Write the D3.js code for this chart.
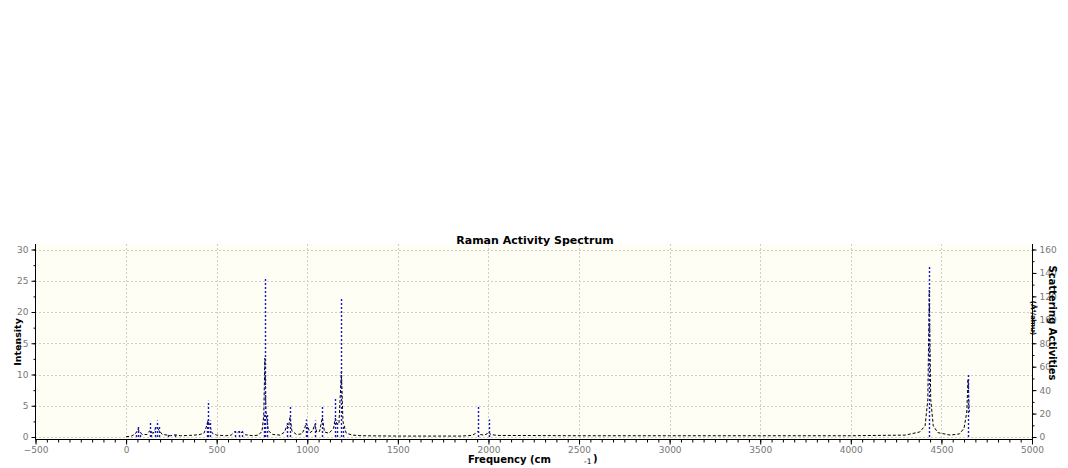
<!DOCTYPE html>
<html><head><meta charset="utf-8">
<script src="https://cdn.jsdelivr.net/npm/d3@7"></script>
<style>body{margin:0;background:#fff;}svg{display:block;font-family:"DejaVu Sans",sans-serif;}</style>
</head><body>
<svg id="c" width="1068" height="468"></svg>
<script>
// Raman stick spectrum: frequency (cm^-1) and scattering activity (Å^4/amu)
const stickFreq = [55,66,75,130,140,160,168,180,230,270,445,452,462,601,624,640,760,766,775,887,905,993,1000,1041,1083,1155,1164,1188,1195,1941,2002,4433,4647];
const stickAct  = [4,10,4,13,5,10,14,10,2,2,14,31,14,6,6,6,20,136,20,13,27,15,10,14,26,34,14,119,10,26,15,145,54];
// Broadened intensity curve
const curveFreq = [0,30,50,58,66,74,90,115,130,138,150,160,168,176,186,200,230,245,270,300,350,400,430,445,452,462,475,500,550,580,601,612,624,632,640,660,700,730,750,760,766,772,785,810,850,875,887,896,905,915,940,970,985,993,1000,1015,1030,1041,1052,1068,1083,1095,1120,1145,1155,1164,1175,1188,1197,1215,1250,1300,1500,1850,1910,1930,1941,1955,1975,1992,2002,2012,2050,2500,3000,3500,4000,4300,4380,4410,4425,4433,4441,4455,4480,4550,4600,4625,4640,4647,4654];
const curveInt  = [0.05,0.15,0.5,0.8,1.3,0.8,0.4,0.4,1.0,0.7,0.6,1.2,1.6,1.3,0.9,0.4,0.3,0.2,0.35,0.2,0.25,0.35,0.6,1.8,2.6,1.8,0.6,0.3,0.2,0.3,0.9,0.6,0.9,0.6,0.8,0.35,0.2,0.3,0.9,3.5,12.6,4.0,1.0,0.4,0.3,0.8,1.8,1.5,3.2,1.0,0.4,0.5,1.3,2.2,1.8,0.7,1.0,2.0,0.8,0.9,3.1,0.8,0.6,1.4,3.0,2.0,2.2,10.4,2.5,0.6,0.3,0.2,0.15,0.15,0.25,0.6,0.9,0.4,0.3,0.5,0.8,0.4,0.25,0.2,0.2,0.2,0.2,0.3,0.8,1.8,6,23.5,6,1.8,0.7,0.3,0.5,1.4,4,9.3,4];
const xTicks = [-500,0,500,1000,1500,2000,2500,3000,3500,4000,4500,5000];
const yTicks = [0,5,10,15,20,25,30];
const y2Ticks = [0,20,40,60,80,100,120,140,160];

const svg = d3.select("#c");
const L = 35, R = 1032, T = 244, B = 440;
const x = d3.scaleLinear().domain([-500,5000]).range([35.5,1032]);
const y = d3.scaleLinear().domain([0,30]).range([437,249.5]);
const y2 = d3.scaleLinear().domain([0,160]).range([437,249.5]);

svg.append("rect").attr("x",L).attr("y",T).attr("width",R-L).attr("height",B-T).attr("fill","#fefef4");

// grid
const grid = svg.append("g").attr("stroke","#cfcfc6").attr("stroke-width",1).attr("stroke-dasharray","2,2");
grid.selectAll("line.v").data(xTicks.slice(1,-1)).join("line")
  .attr("x1",d=>Math.round(x(d))+0.5).attr("x2",d=>Math.round(x(d))+0.5).attr("y1",T).attr("y2",B);
grid.selectAll("line.h").data(yTicks).join("line")
  .attr("x1",L).attr("x2",R).attr("y1",d=>Math.round(y(d))+0.5).attr("y2",d=>Math.round(y(d))+0.5);

// curve
const line = d3.line().x((d,i)=>x(curveFreq[i])).y((d,i)=>y(curveInt[i]));
svg.append("path").attr("d",line(curveFreq)).attr("fill","none").attr("stroke","#000")
  .attr("stroke-width",1).attr("stroke-dasharray","3,2");

// sticks
svg.append("g").selectAll("line").data(stickFreq).join("line")
  .attr("x1",d=>Math.round(x(d))+0.5).attr("x2",d=>Math.round(x(d))+0.5)
  .attr("y1",y2(0)).attr("y2",(d,i)=>y2(stickAct[i]))
  .attr("stroke","#1414d2").attr("stroke-width",1.4).attr("stroke-dasharray","2,2");

// axes
const tickCol = "#777";
const xAx = svg.append("g").attr("transform",`translate(0,${B-0.5})`)
  .call(d3.axisBottom(x).tickValues(xTicks).tickSize(5).tickFormat(d3.format("d")));
const minorX = d3.range(-500,5000.1,62.5);
svg.append("g").attr("transform",`translate(0,${B-0.5})`)
  .call(d3.axisBottom(x).tickValues(minorX).tickSize(3).tickFormat(""))
  .call(g=>g.select(".domain").remove());
const yAx = svg.append("g").attr("transform",`translate(${L+0.5},0)`)
  .call(d3.axisLeft(y).tickValues(yTicks).tickSize(4));
svg.append("g").attr("transform",`translate(${L+0.5},0)`)
  .call(d3.axisLeft(y).tickValues(d3.range(0,30.1,2.5)).tickSize(2).tickFormat(""))
  .call(g=>g.select(".domain").remove());
const y2Ax = svg.append("g").attr("transform",`translate(${R+0.5},0)`)
  .call(d3.axisRight(y2).tickValues(y2Ticks).tickSize(4));
svg.append("g").attr("transform",`translate(${R+0.5},0)`)
  .call(d3.axisRight(y2).tickValues(d3.range(0,160.1,10)).tickSize(2).tickFormat(""))
  .call(g=>g.select(".domain").remove());

[xAx,yAx,y2Ax].forEach(g=>{
  g.selectAll("text").attr("fill",tickCol).style("font-size","9px").style("font-family","DejaVu Sans");
  g.select(".domain").remove();
});
svg.append("line").attr("x1",L).attr("x2",R+1).attr("y1",B-0.5).attr("y2",B-0.5).attr("stroke","#000");
svg.append("line").attr("x1",L+0.5).attr("x2",L+0.5).attr("y1",T).attr("y2",B).attr("stroke","#000");
svg.append("line").attr("x1",R+0.5).attr("x2",R+0.5).attr("y1",T).attr("y2",B).attr("stroke","#000");
xAx.selectAll("text").attr("dy","0.6em");

// titles
svg.append("text").attr("x",535).attr("y",244).attr("text-anchor","middle")
  .style("font-size","11px").style("font-weight","bold").text("Raman Activity Spectrum");
svg.append("text").attr("transform","translate(21,342) rotate(-90)").attr("text-anchor","middle")
  .style("font-size","9.5px").style("font-weight","bold").text("Intensity");
svg.append("text").attr("x",468).attr("y",463).style("font-size","10px").style("font-weight","bold").text("Frequency (cm");
svg.append("text").attr("x",584).attr("y",464).style("font-size","7.5px").text("-1");
svg.append("text").attr("x",593).attr("y",462).style("font-size","10px").style("font-weight","bold").text(")");
svg.append("text").attr("transform","translate(1049,323) rotate(90)").attr("text-anchor","middle")
  .style("font-size","10px").style("font-weight","bold").text("Scattering Activities");
svg.append("text").attr("transform","translate(1031,318) rotate(90)").attr("text-anchor","middle")
  .style("font-size","7px").style("font-weight","bold").text("(Å⁴/amu)");
</script>
</body></html>
